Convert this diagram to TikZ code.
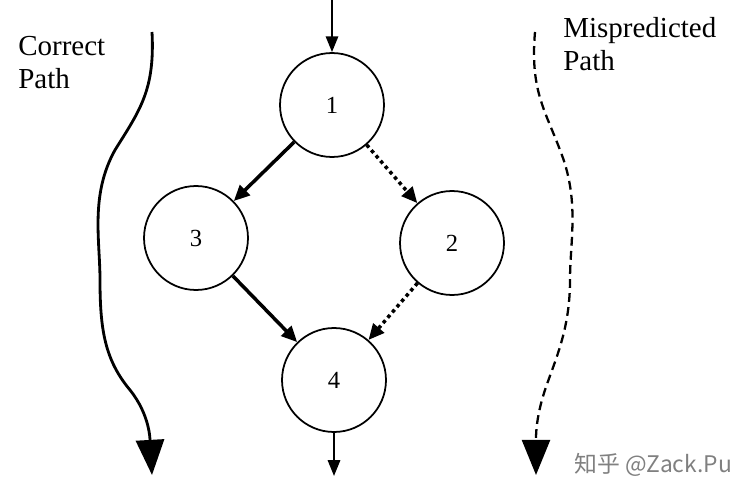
\documentclass[tikz,border=0pt]{standalone}
\usepackage{fontspec}
\setmainfont{Liberation Serif}
\newfontfamily\cjk{Noto Sans CJK SC}
\usetikzlibrary{arrows.meta}
\begin{document}
\begin{tikzpicture}[x=0.02cm,y=-0.02cm,
  st/.style={circle,draw,line width=1pt,minimum size=2.08cm,inner sep=0pt,font=\fontsize{14}{16}\selectfont},
  ar/.style={line width=2pt,-{Triangle[length=9pt,width=8pt]}},
  dar/.style={ar,dotted},
  big/.style={line width=1.6pt,-{Triangle[length=20pt,width=16pt]}},
  lab/.style={align=left,anchor=north west,font=\fontsize{16.5}{19}\selectfont,inner sep=0pt}]
\useasboundingbox (0,0) rectangle (743,500);
\node[st] (n1) at (332,105) {1};
\node[st] (n3) at (196,238) {3};
\node[st] (n2) at (452,243) {2};
\node[st] (n4) at (334,380) {4};
\coordinate (top) at (332,0);
\coordinate (bot) at (334,476);
\draw[line width=1.2pt,-{Triangle[length=9pt,width=7pt]}] (top) -- (n1);
\draw[line width=1.2pt,-{Triangle[length=9pt,width=7pt]}] (n4) -- (bot);
\draw[ar] (n1) -- (n3);
\draw[dar] (n1) -- (n2);
\draw[ar] (n3) -- (n4);
\draw[dar] (n2) -- (n4);
\coordinate (ls) at (152,32);
\coordinate (le) at (152,475);
\draw[big] (ls) .. controls (155,90) and (140,110) .. (115,150)
  .. controls (90,195) and (100,240) .. (100,280)
  .. controls (100,330) and (105,360) .. (130,390)
  .. controls (150,415) and (150,440) .. (le);
\coordinate (rs) at (535,32);
\coordinate (re) at (536,475);
\draw[big,dash pattern=on 5pt off 3pt,line width=1.3pt] (rs) .. controls (530,90) and (545,110) .. (560,150)
  .. controls (580,200) and (570,240) .. (570,280)
  .. controls (570,330) and (555,360) .. (545,390)
  .. controls (535,420) and (536,440) .. (re);
\node[lab] (cp) at (18,36) {Correct\\Path};
\node[lab] (mp) at (563,17) {Mispredicted\\Path};
\node[anchor=west,text=gray,font=\cjk\fontsize{13}{15}\selectfont] (wm) at (568,465) {知乎 @Zack.Pu};
\end{tikzpicture}
\end{document}
